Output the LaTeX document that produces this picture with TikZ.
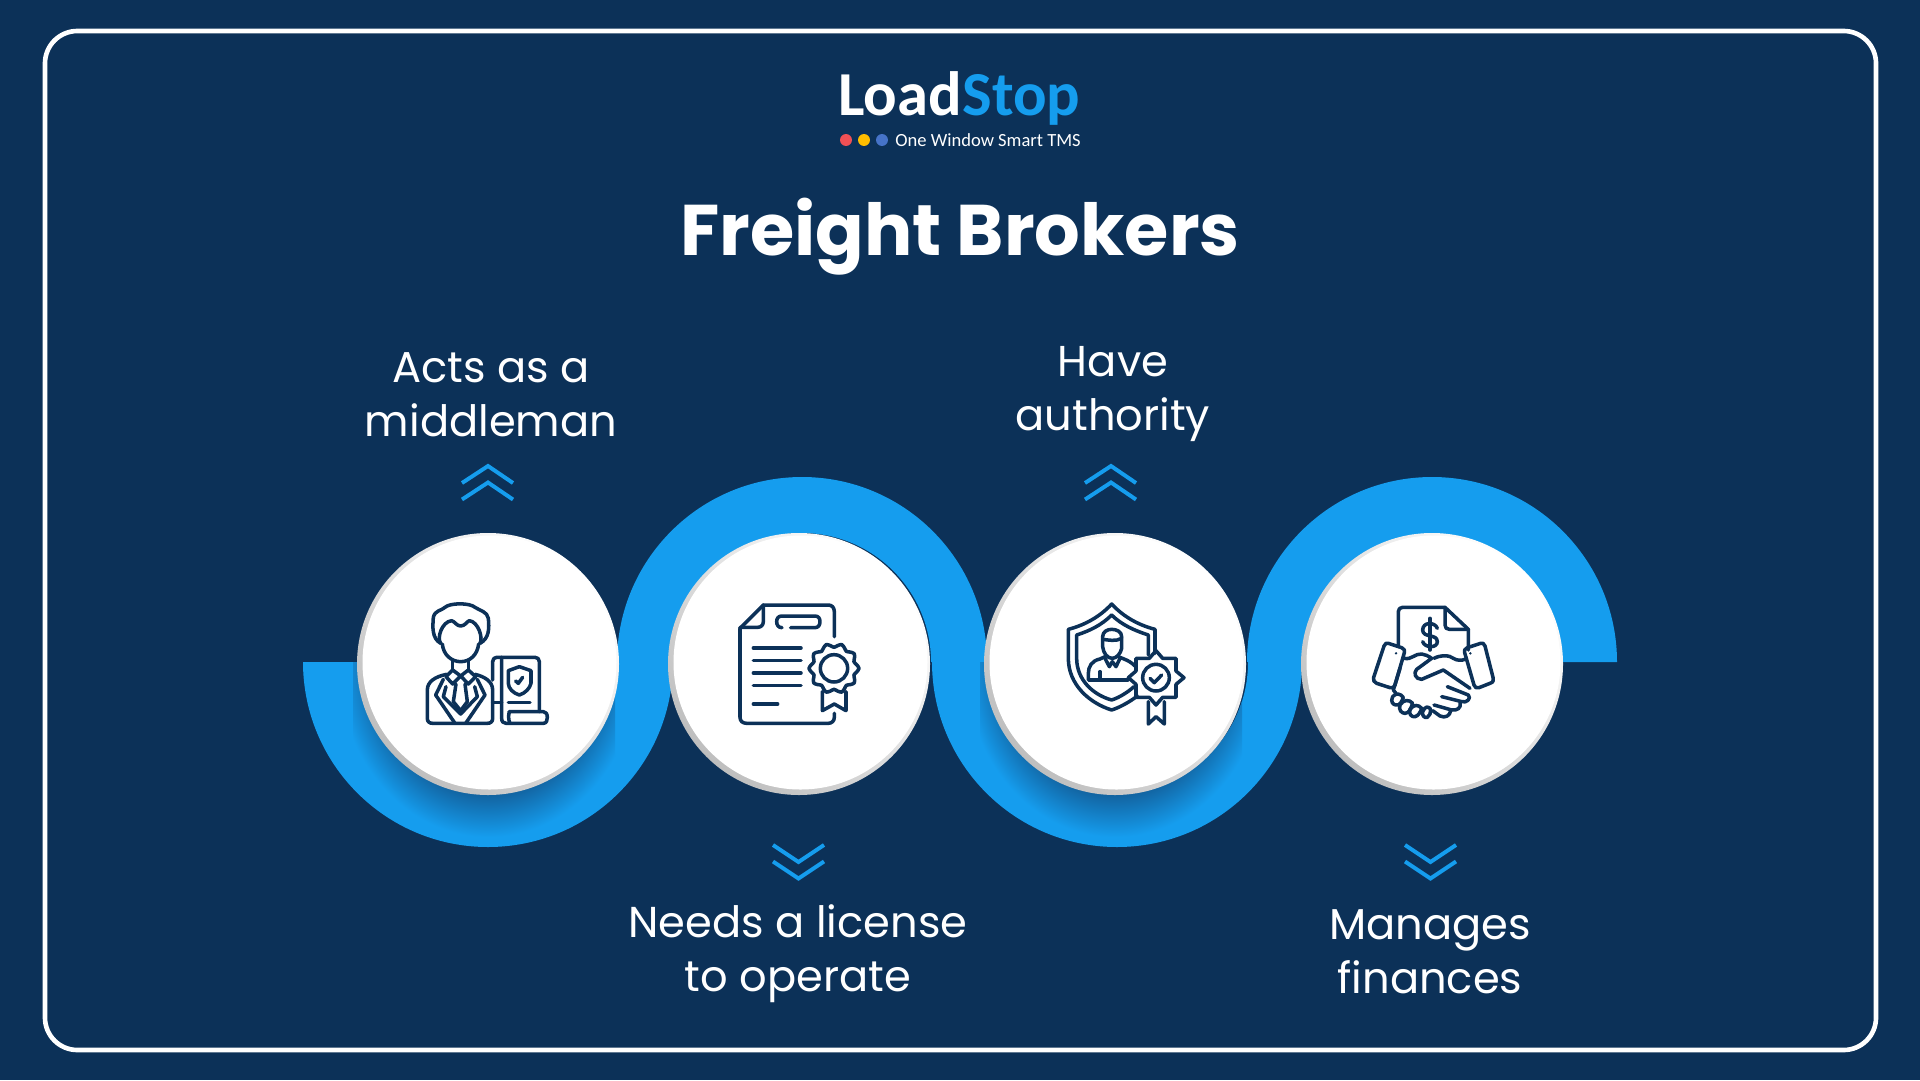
\documentclass[tikz,border=0pt]{standalone}
\usepackage{fontspec}
\setmainfont{Poppins}
\newfontfamily\logofont{Carlito}
\definecolor{navybg}{RGB}{12,49,88}
\definecolor{ringblue}{RGB}{21,157,238}
\definecolor{rimgray}{RGB}{190,190,190}
\definecolor{shadeblue}{RGB}{18,96,156}
\definecolor{dotredc}{RGB}{240,80,85}
\definecolor{dotyellowc}{RGB}{255,190,0}
\definecolor{dotbluec}{RGB}{70,115,200}
\pgfdeclareradialshading{ringshade}{\pgfpoint{0bp}{0bp}}{color(0bp)=(shadeblue); color(18.5bp)=(shadeblue); color(25bp)=(ringblue); color(50bp)=(ringblue)}
\tikzset{
  ringband/.style={fill=ringblue,draw=none},
  rimdisc/.style={draw=none,left color=rimgray,right color=white,shading angle=135},
  whitedisc/.style={fill=white,draw=none},
  chevron/.style={draw=ringblue,line width=2.8pt,line cap=butt,line join=miter},
  caption/.style={text=white,align=center,font=\fontsize{30.7}{38.4}\selectfont},
  iconline/.style={draw=navybg,line width=2.5pt},
  dot/.style={circle,inner sep=0pt,minimum size=8.5pt}
}
\begin{document}
\begin{tikzpicture}[line cap=round,line join=round,x=0.025cm,y=-0.025cm]
	\useasboundingbox (0,0) rectangle (1920,1080);
	\fill [navybg] (0,0) rectangle (1920,1080);
	\draw [white,line width=3.3pt,rounded corners=23] (45,31) rectangle (1876,1050);
	\node [anchor=base west,inner sep=0pt,text=white,font=\logofont\bfseries\fontsize{44.5}{45}\selectfont] (logoload) at (838,115) {Load};
	\node [anchor=base west,inner sep=0pt,text=ringblue,font=\logofont\bfseries\fontsize{44.5}{45}\selectfont] (logostop) at (logoload.base east) {Stop};
	\node [dot,fill=dotredc] (dotred) at (846,140) {};
	\node [dot,fill=dotyellowc] (dotyellow) at (864,140) {};
	\node [dot,fill=dotbluec] (dotblue) at (882,140) {};
	\node [anchor=base west,inner sep=0pt,text=white,font=\logofont\fontsize{13.2}{13.2}\selectfont] (tagline) at (895,146) {One Window Smart TMS};
	\node [anchor=base,inner sep=0pt,text=white,font=\bfseries\fontsize{51}{51}\selectfont] (title) at (960,255) {Freight Brokers};
	\fill [ringband] (303,662) arc [start angle=180,end angle=0,radius=185] -- (618,662) arc [start angle=0,end angle=180,radius=130] -- cycle;
	\fill [ringband] (617,662) arc [start angle=180,end angle=360,radius=185] -- (931,662) arc [start angle=360,end angle=180,radius=129] -- cycle;
	\fill [ringband] (932,662) arc [start angle=180,end angle=0,radius=185] -- (1248,662) arc [start angle=0,end angle=180,radius=131] -- cycle;
	\fill [ringband] (1247,662) arc [start angle=180,end angle=360,radius=185] -- (1560,662) arc [start angle=360,end angle=180,radius=128] -- cycle;
	\begin{scope}
		\clip (303,662) arc [start angle=180,end angle=0,radius=185] -- (618,662) arc [start angle=0,end angle=180,radius=130] -- cycle;
		\clip (353,662) rectangle (615,860);
		\shade [shading=ringshade] (488,665) ellipse (150 and 172);
	\end{scope}
	\begin{scope}
		\clip (932,662) arc [start angle=180,end angle=0,radius=185] -- (1248,662) arc [start angle=0,end angle=180,radius=131] -- cycle;
		\clip (980,662) rectangle (1242,860);
		\shade [shading=ringshade] (1115,665) ellipse (150 and 172);
	\end{scope}
	\shade [rimdisc] (488,664) circle (131);
	\fill [whitedisc] (489.5,662.5) circle (127);
	\shade [rimdisc] (799,664) circle (131);
	\fill [whitedisc] (800.5,662.5) circle (127);
	\shade [rimdisc] (1115,664) circle (131);
	\fill [whitedisc] (1116.5,662.5) circle (127);
	\shade [rimdisc] (1432,664) circle (131);
	\fill [whitedisc] (1433.5,662.5) circle (127);
	\draw [chevron] (462,483)-- (488,466)-- (513,483);
	\draw [chevron] (462,499.5)-- (488,482.5)-- (513,499.5);
	\draw [chevron] (1085,483)-- (1111,466)-- (1136,483);
	\draw [chevron] (1085,499.5)-- (1111,482.5)-- (1136,499.5);
	\draw [chevron] (773,845)-- (798.5,862)-- (824,845);
	\draw [chevron] (773,861.5)-- (798.5,878.5)-- (824,861.5);
	\draw [chevron] (1405,845)-- (1430.5,862)-- (1456,845);
	\draw [chevron] (1405,861.5)-- (1430.5,878.5)-- (1456,861.5);
	\node [caption] (middleman) at (491,395) {Acts as a\\middleman};
	\node [caption] (authority) at (1113,394) {Have\\authority};
	\node [caption] (license) at (798,954) {Needs a license\\to operate};
	\node [caption] (finances) at (1430,952) {Manages\\finances};
	\begin{scope}[shift={(400,580)},scale=0.3333]
		\draw [iconline] (122,190) .. controls (95,175) and (98,140) .. (100,112) .. controls (105,90) and (125,92) .. (135,82) .. controls (150,68) and (210,68) .. (225,82) .. controls (240,92) and (262,95) .. (265,115) .. controls (268,145) and (268,175) .. (240,190);
		\draw [iconline] (122,190) .. controls (110,175) and (125,125) .. (155,122) .. controls (165,125) and (170,138) .. (182,138) .. controls (195,138) and (200,125) .. (208,122) .. controls (235,125) and (250,175) .. (240,190);
		\draw [iconline] (127,192) .. controls (130,225) and (155,245) .. (182,245) .. controls (210,245) and (232,225) .. (236,192);
		\draw [iconline] (158,240)-- (158,270);
		\draw [iconline] (205,240)-- (205,270);
		\draw [iconline] (158,270)-- (138,290)-- (158,312)-- (182,288)-- (205,312)-- (227,290)-- (205,270)-- (182,288)-- cycle;
		\draw [iconline] (140,283) .. controls (105,290) and (82,305) .. (82,330) -- (82,415) .. controls (82,425) and (88,430) .. (98,430) -- (262,430) .. controls (272,430) and (278,425) .. (278,415) -- (278,330) .. controls (278,305) and (255,290) .. (225,283);
		\draw [iconline] (130,298)-- (107,345)-- (165,430);
		\draw [iconline] (232,298)-- (255,345)-- (197,430);
		\draw [iconline] (138,320)-- (130,350)-- (182,402)-- (232,350)-- (224,320);
		\draw [iconline] (168,312)-- (160,365)-- (182,392)-- (202,365)-- (195,312);
		\draw [iconline] (278,300)-- (278,245) .. controls (278,237) and (283,232) .. (290,232) -- (405,232) .. controls (413,232) and (418,237) .. (418,245) -- (418,395);
		\draw [iconline] (305,232)-- (305,415) .. controls (305,425) and (310,430) .. (318,430) -- (430,430) .. controls (440,430) and (442,420) .. (442,412) .. controls (442,402) and (438,395) .. (430,395) -- (328,395);
		\draw [iconline] (328,395) .. controls (325,405) and (325,420) .. (330,430);
		\draw [iconline] (278,367)-- (305,367);
		\draw [iconline] (325,367)-- (390,367);
		\draw [iconline] (358,260)-- (393,272)-- (393,310) .. controls (390,325) and (375,340) .. (358,345) .. controls (340,340) and (325,325) .. (325,310) -- (325,272)-- cycle;
		\draw [iconline] (347,303)-- (355,310)-- (368,292);
	\end{scope}
	\begin{scope}[shift={(720,580)},scale=0.3333]
		\draw [iconline] (343,170)-- (343,95) .. controls (343,82) and (335,75) .. (325,75) -- (130,75)-- (60,145)-- (60,412) .. controls (60,423) and (68,430) .. (80,430) -- (325,430) .. controls (335,430) and (343,423) .. (343,412) -- (343,400);
		\draw [iconline] (130,75)-- (130,125) .. controls (130,135) and (123,142) .. (113,142) -- (60,142);
		\draw [iconline] (186,143) .. controls (175,143) and (170,135) .. (170,125) .. controls (170,115) and (175,108) .. (186,108) -- (285,108) .. controls (295,108) and (300,115) .. (300,125) .. controls (300,135) and (295,143) .. (285,143) -- (212,143);
		\draw [iconline] (100,204)-- (243,204);
		\draw [iconline] (100,241)-- (243,241);
		\draw [iconline] (100,279)-- (243,279);
		\draw [iconline] (100,317)-- (243,317);
		\draw [iconline] (100,372)-- (173,372);
		\draw [iconline,shift={(342,265)}] plot [smooth cycle,domain=0:351,samples=40] (\x:{69+6*cos(10*\x)});
		\draw [iconline] (342,265) circle (41);
		\draw [iconline] (307,335)-- (307,392)-- (343,372)-- (378,392)-- (378,335);
	\end{scope}
	\begin{scope}[shift={(1050,590)},scale=0.3333]
		\draw [iconline] (315,190)-- (315,118) .. controls (265,105) and (220,80) .. (185,42) .. controls (150,80) and (105,105) .. (55,118) -- (55,205) .. controls (55,285) and (120,340) .. (185,360) .. controls (210,352) and (240,335) .. (262,318);
		\draw [iconline] (295,195)-- (295,135) .. controls (255,122) and (215,105) .. (185,75) .. controls (155,105) and (120,122) .. (80,135) -- (80,205) .. controls (80,270) and (130,315) .. (185,330) .. controls (210,322) and (235,305) .. (252,290);
		\draw [iconline] (158,170) -- (158,140) .. controls (158,125) and (172,118) .. (185,118) .. controls (200,118) and (215,125) .. (215,140) -- (215,175) .. controls (212,190) and (200,205) .. (187,205) .. controls (172,205) and (160,190) .. (158,170);
		\draw [iconline] (158,148) .. controls (175,150) and (198,155) .. (215,145);
		\draw [iconline] (165,200)-- (150,207) .. controls (125,212) and (115,230) .. (115,250) -- (115,270)-- (235,270);
		\draw [iconline] (205,200)-- (222,207) .. controls (235,212) and (245,218) .. (255,228);
		\draw [iconline] (165,205)-- (178,230)-- (187,215)-- (198,230)-- (210,205);
		\draw [iconline] (150,270)-- (150,245);
		\draw [iconline] (318,182)-- (338,205)-- (378,205)-- (378,243)-- (402,263)-- (378,283)-- (378,322)-- (338,322)-- (318,345)-- (298,322)-- (258,322)-- (258,283)-- (235,263)-- (258,243)-- (258,205)-- (298,205)-- cycle;
		\draw [iconline] (318,263) circle (40);
		\draw [iconline] (300,265)-- (313,278)-- (335,255);
		\draw [iconline] (295,335)-- (295,402)-- (318,380)-- (343,402)-- (343,335);
	\end{scope}
	\begin{scope}[shift={(1360,590)},scale=0.3333]
		\draw [iconline] (115,170)-- (115,65) .. controls (115,57) and (120,52) .. (128,52) -- (255,52)-- (325,118)-- (325,180);
		\draw [iconline] (255,52)-- (255,105) .. controls (255,113) and (260,118) .. (268,118) -- (325,118);
		\draw [iconline] (210,85)-- (210,180);
		\draw [iconline] (232,115) .. controls (225,95) and (188,95) .. (188,120) .. controls (188,145) and (232,130) .. (232,155) .. controls (232,175) and (195,175) .. (188,155);
		\draw [iconline] (85,160)-- (125,173) .. controls (133,176) and (135,182) .. (133,188) -- (105,285) .. controls (102,293) and (97,296) .. (90,293) -- (50,280) .. controls (42,277) and (38,270) .. (41,262) -- (72,168) .. controls (75,160) and (80,158) .. (85,160);
		\draw [iconline] (362,160)-- (322,173) .. controls (314,176) and (312,182) .. (314,188) -- (342,285) .. controls (345,293) and (350,296) .. (357,293) -- (390,280) .. controls (400,277) and (402,270) .. (399,262) -- (375,168) .. controls (372,160) and (367,158) .. (362,160);
		\fill [navybg] (108,190) circle (4);
		\fill [navybg] (331,190) circle (4);
		\draw [iconline] (133,205) .. controls (155,210) and (165,190) .. (185,192) .. controls (195,193) and (205,198) .. (215,205) -- (170,238) .. controls (160,248) and (165,268) .. (185,268) -- (250,240)-- (330,295);
		\draw [iconline] (222,205) .. controls (240,195) and (270,195) .. (280,205) .. controls (290,212) and (305,212) .. (315,208);
		\draw [iconline] (120,235)-- (100,300)-- (108,310);
		\draw [iconline] (262,290)-- (325,315) .. controls (335,325) and (320,340) .. (305,335) -- (245,320);
		\draw [iconline] (300,338) .. controls (305,355) and (290,362) .. (275,360) -- (222,345);
		\draw [iconline] (272,362) .. controls (270,378) and (255,385) .. (240,378) -- (218,362);
		\draw [iconline] (130,322) .. controls (120,310) and (108,308) .. (98,320) .. controls (90,335) and (100,345) .. (108,345) .. controls (120,347) and (125,335) .. (130,322);
		\draw [iconline] (158,340) .. controls (148,328) and (130,328) .. (120,345) .. controls (115,360) and (125,370) .. (135,370) .. controls (148,370) and (152,355) .. (158,340);
		\draw [iconline] (185,355) .. controls (175,343) and (160,343) .. (150,358) .. controls (145,372) and (155,382) .. (165,380) .. controls (175,378) and (182,365) .. (185,355);
		\draw [iconline] (212,358) .. controls (205,348) and (195,348) .. (188,365) .. controls (185,378) and (195,385) .. (202,382) .. controls (210,378) and (212,368) .. (212,358);
	\end{scope}
\end{tikzpicture}
\end{document}
